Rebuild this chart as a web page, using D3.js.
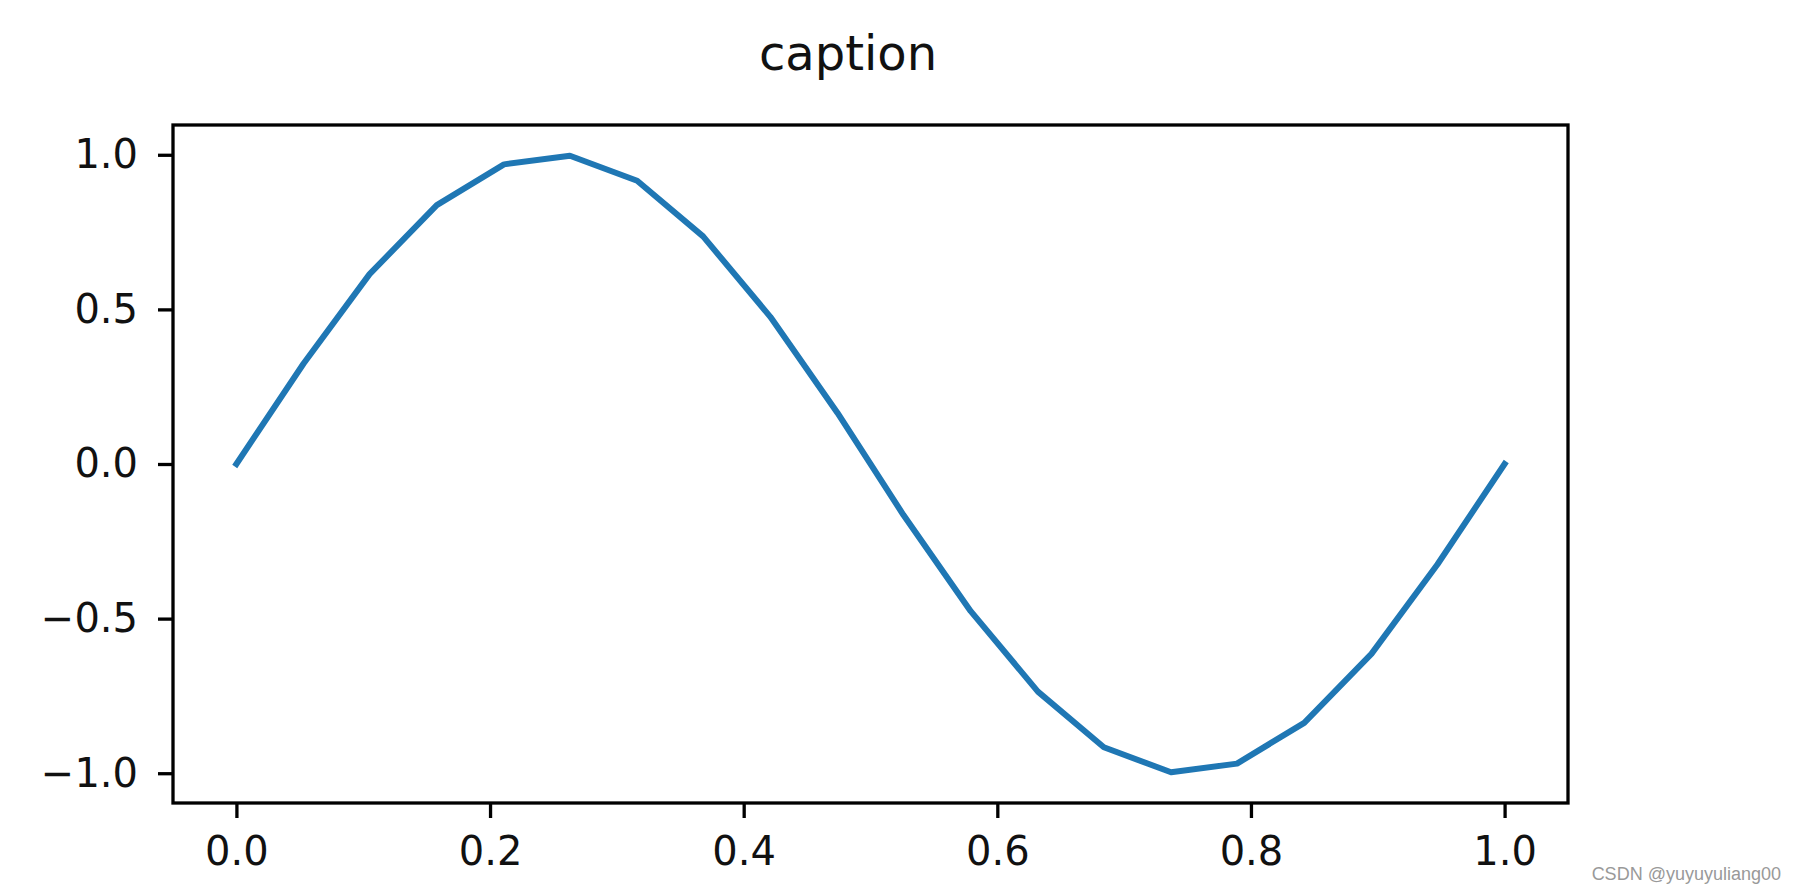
<!DOCTYPE html>
<html>
<head>
<meta charset="utf-8">
<script src="https://cdn.jsdelivr.net/npm/d3@7"></script>
<style>
  html, body { margin: 0; padding: 0; background: #fff; }
  svg { display: block; }
  .axis text { font-family: "DejaVu Sans", sans-serif; font-size: 40px; fill: #111; }
  .axis line { stroke: #000; stroke-width: 3.3px; }
  .axis path { display: none; }
</style>
</head>
<body>
<div id="chart"></div>
<script>
// sample points
const xs = [0.000, 0.053, 0.105, 0.158, 0.211, 0.263, 0.316, 0.368, 0.421, 0.474,
            0.526, 0.579, 0.632, 0.684, 0.737, 0.789, 0.842, 0.895, 0.947, 1.000]
const ys = [0.000, 0.325, 0.614, 0.837, 0.969, 0.997, 0.916, 0.736, 0.476, 0.165,
            -0.165, -0.476, -0.736, -0.916, -0.997, -0.969, -0.837, -0.614, -0.325, 0.000]
const xTicks = [0.0, 0.2, 0.4, 0.6, 0.8, 1.0]
const yTicks = [-1.0, -0.5, 0.0, 0.5, 1.0]
const title = 'caption'
const watermark = 'CSDN @yuyuyuliang00'

const W = 1796, H = 893
const m = {left: 173, top: 125, right: 1568, bottom: 803}

const svg = d3.select('#chart').append('svg')
  .attr('width', W)
  .attr('height', H)

const x = d3.scaleLinear().domain([-0.05, 1.05]).range([m.left, m.right])
const y = d3.scaleLinear().domain([-1.0963, 1.0963]).range([m.bottom, m.top])

const fmt = (d) => d3.format('.1f')(d).replace('-', '\u2212')

svg.append('g')
  .attr('class', 'axis')
  .attr('transform', `translate(0,${m.bottom})`)
  .call(d3.axisBottom(x).tickValues(xTicks).tickFormat(fmt).tickSize(15).tickPadding(19))

svg.append('g')
  .attr('class', 'axis')
  .attr('transform', `translate(${m.left},0)`)
  .call(d3.axisLeft(y).tickValues(yTicks).tickFormat(fmt).tickSize(15).tickPadding(20))

const data = xs.map((v, i) => ({x: v, y: ys[i]}))

svg.append('path')
  .datum(data)
  .attr('fill', 'none')
  .attr('stroke', '#1f77b4')
  .attr('stroke-width', 6)
  .attr('stroke-linejoin', 'round')
  .attr('stroke-linecap', 'square')
  .attr('d', d3.line().x((d) => x(d.x)).y((d) => y(d.y)))

// frame
svg.append('rect')
  .attr('x', m.left)
  .attr('y', m.top)
  .attr('width', m.right - m.left)
  .attr('height', m.bottom - m.top)
  .attr('fill', 'none')
  .attr('stroke', '#000')
  .attr('stroke-width', 3.3)

svg.append('text')
  .attr('x', 848)
  .attr('y', 70)
  .attr('text-anchor', 'middle')
  .style('font-family', '"DejaVu Sans", sans-serif')
  .style('font-size', '48px')
  .style('fill', '#111')
  .text(title)

svg.append('text')
  .attr('x', 1781)
  .attr('y', 880)
  .attr('text-anchor', 'end')
  .style('font-family', '"Liberation Sans", Arial, sans-serif')
  .style('font-size', '18px')
  .style('fill', '#999')
  .text(watermark)
</script>
</body>
</html>
